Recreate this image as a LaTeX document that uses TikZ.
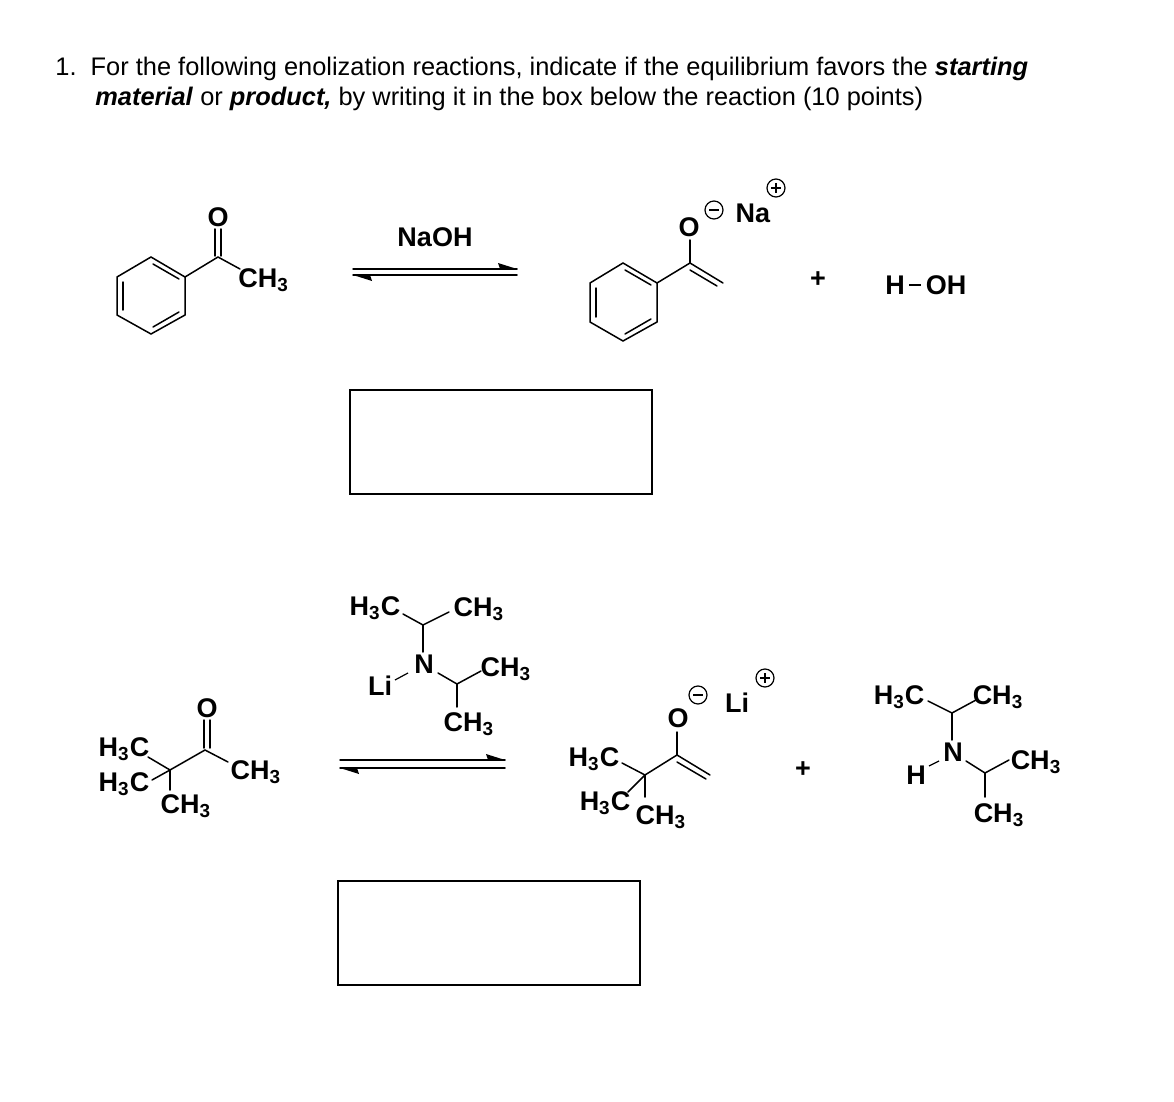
\documentclass[tikz,border=0pt]{standalone}
\usepackage{fontspec}
\setmainfont{Liberation Sans}
\newcommand{\chsub}[1]{\textsubscript{#1}}
\begin{document}
\begin{tikzpicture}[x=0.5pt,y=-0.5pt,
  bond/.style={line width=0.75pt,line cap=round},
  lbl/.style={font=\fontsize{13.5}{15}\selectfont\bfseries,inner sep=0pt},
  ansbox/.style={draw,line width=0.8pt},
  chg/.style={draw,circle,line width=0.6pt,minimum size=9pt,inner sep=0pt}]
\useasboundingbox (0,0) rectangle (1174,1102);
% title
\node[anchor=base west,inner sep=0pt,font=\fontsize{12.7}{15}\selectfont] (t1) at (55,76) {1.\ \ For the following enolization reactions, indicate if the equilibrium favors the \textbf{\itshape starting}};
\node[anchor=base west,inner sep=0pt,font=\fontsize{12.7}{15}\selectfont] (t2) at (95,106) {\textbf{\itshape material} or \textbf{\itshape product,} by writing it in the box below the reaction (10 points)};

% ---------- reaction 1: acetophenone
\draw[bond] (151,257)--(185,277)--(185,315)--(151,334)--(117,315)--(117,277)--cycle;
\draw[bond] (153,264)--(179,279);
\draw[bond] (123,282)--(123,310);
\draw[bond] (153,327)--(179,312);
\node[lbl] (o1) at (218,217) {O};
\node[lbl,anchor=west] (m1) at (238,280) {CH\chsub{3}};
\draw[bond] (185,277)--(218,257)--(240,269);
\draw[bond] (215,256)--(215,229);
\draw[bond] (221,256)--(221,229);
% arrows
\node[lbl] (naoh) at (435,237) {NaOH};
\draw[bond] (353,269)--(517,269);
\draw[bond] (353,275)--(517,275);
\fill (517,269)--(498,263)--(500,269)--cycle;
\fill (353,275)--(372,281)--(370,275)--cycle;
% product enolate
\draw[bond] (623,263)--(657,283)--(657,322)--(623,341)--(590,322)--(590,283)--cycle;
\draw[bond] (625,270)--(651,285);
\draw[bond] (596,288)--(596,317);
\draw[bond] (625,334)--(651,319);
\draw[bond] (657,283)--(690,263)--(723,283);
\draw[bond] (690,270)--(717,286);
\node[lbl] (o2) at (689,227) {O};
\draw[bond] (690,263)--(690,240);
\node[chg] (c1) at (714,210) {};
\draw[line width=0.6pt] (709,210)--(719,210);
\node[lbl] (na) at (753,213) {Na};
\node[chg] (c2) at (776,188) {};
\draw[line width=0.6pt] (771,188)--(781,188) (776,183)--(776,193);
\node[lbl] (p1) at (818,280) {+};
\node[lbl] (h1) at (895,285) {H};
\node[lbl] (oh) at (946,285) {OH};
\draw[line width=0.75pt] ([xshift=2pt]h1.east) -- ([xshift=-2pt]oh.west);
\draw[ansbox] (350,390) rectangle (652,494);

% ---------- reaction 2: pinacolone
\node[lbl] (o3) at (207,708) {O};
\draw[bond] (204,748)--(204,720);
\draw[bond] (210,748)--(210,720);
\draw[bond] (148,757)--(170,770)--(205,750)--(228,762);
\draw[bond] (170,770)--(152,780);
\draw[bond] (170,770)--(170,790);
\node[lbl] (a1) at (124,749) {H\chsub{3}C};
\node[lbl] (a2) at (124,784) {H\chsub{3}C};
\node[lbl] (a3) at (186,806) {CH\chsub{3}};
\node[lbl] (a4) at (256,772) {CH\chsub{3}};
% LDA
\node[lbl] (l1) at (375,608) {H\chsub{3}C};
\node[lbl] (l2) at (479,609) {CH\chsub{3}};
\draw[bond] (403,614)--(423,625)--(449,612);
\draw[bond] (423,625)--(423,652);
\node[lbl] (ln) at (424,664) {N};
\node[lbl] (li) at (380,686) {Li};
\draw[line width=0.6pt] (395,680)--(408,673);
\draw[bond] (438,673)--(457,684)--(481,671);
\draw[bond] (457,684)--(457,707);
\node[lbl] (l3) at (506,669) {CH\chsub{3}};
\node[lbl] (l4) at (469,724) {CH\chsub{3}};
% arrows
\draw[bond] (340,760)--(505,760);
\draw[bond] (340,768)--(505,768);
\fill (505,760)--(486,754)--(488,760)--cycle;
\fill (340,768)--(359,774)--(357,768)--cycle;
% product 2
\draw[bond] (622,763)--(645,775)--(677,755)--(710,775);
\draw[bond] (677,762)--(706,779);
\draw[bond] (645,775)--(628,792);
\draw[bond] (645,775)--(645,797);
\draw[bond] (677,755)--(677,732);
\node[lbl] (o4) at (678,718) {O};
\node[chg] (c3) at (698,695) {};
\draw[line width=0.6pt] (693,695)--(703,695);
\node[lbl] (li2) at (737,703) {Li};
\node[chg] (c4) at (765,678) {};
\draw[line width=0.6pt] (760,678)--(770,678) (765,673)--(765,683);
\node[lbl] (b1) at (594,759) {H\chsub{3}C};
\node[lbl] (b2) at (605,803) {H\chsub{3}C};
\node[lbl] (b3) at (661,817) {CH\chsub{3}};
\node[lbl] (p2) at (803,770) {+};
% diisopropylamine
\node[lbl] (d1) at (899,697) {H\chsub{3}C};
\node[lbl] (d2) at (998,697) {CH\chsub{3}};
\draw[bond] (928,701)--(952,713)--(976,700);
\draw[bond] (952,713)--(952,740);
\node[lbl] (dn) at (953,752) {N};
\node[lbl] (dh) at (916,775) {H};
\draw[line width=0.6pt] (929,766)--(939,761);
\draw[bond] (966,761)--(985,773)--(1009,760);
\draw[bond] (985,773)--(985,797);
\node[lbl] (d3) at (1036,762) {CH\chsub{3}};
\node[lbl] (d4) at (999,815) {CH\chsub{3}};
\draw[ansbox] (338,881) rectangle (640,985);
\end{tikzpicture}
\end{document}
